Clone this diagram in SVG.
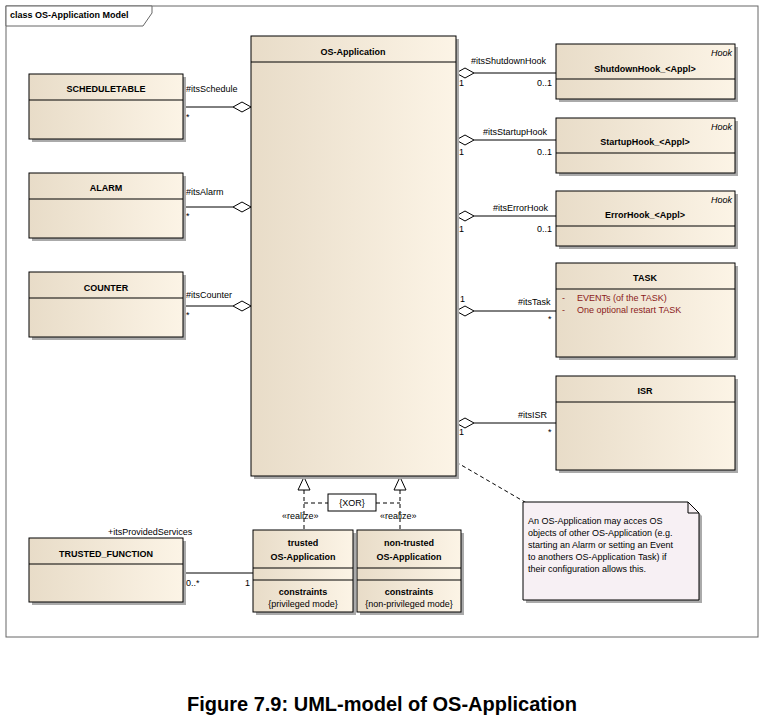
<svg xmlns="http://www.w3.org/2000/svg" width="767" height="718" viewBox="0 0 767 718">
<defs>
<linearGradient id="g" x1="0" y1="0" x2="1" y2="0"><stop offset="0" stop-color="#e8dcc8"/><stop offset="1" stop-color="#fcf4e6"/></linearGradient>
<marker id="open" markerWidth="14" markerHeight="12" refX="1" refY="6" orient="auto" markerUnits="userSpaceOnUse"><path d="M13,0 L1,6 L13,12" fill="none" stroke="#000"/></marker>
</defs>
<style>
text{font-family:"Liberation Sans",Arial,sans-serif;font-size:9px;fill:#000}
.b{font-weight:bold}
.box{fill:url(#g);stroke:#000;stroke-width:1}
.sh{fill:#aaa}
.ln{stroke:#000;stroke-width:1;fill:none}
.dash{stroke:#000;stroke-width:1;fill:none;stroke-dasharray:4,3}
.dia{fill:#fff;stroke:#000}
.red{fill:#8b1a1a}
</style>
<rect width="767" height="718" fill="#fff"/>
<g id="frame">
<rect x="6" y="6" width="752" height="631" fill="#fff" stroke="#666"/>
<path d="M6,6 H152 V13 L143,26 H6 Z" fill="#fff" stroke="#666"/>
<text x="10" y="18" class="b">class OS-Application Model</text>
</g>
<g id="connectors">
<path class="ln" d="M183,107 H233"/><path class="dia" d="M233,107 L242,102 L251,107 L242,112 Z"/>
<text x="186" y="92">#itsSchedule</text><text x="186" y="120">*</text><text x="254" y="126">1</text>
<path class="ln" d="M183,207 H233"/><path class="dia" d="M233,207 L242,202 L251,207 L242,212 Z"/>
<text x="186" y="195">#itsAlarm</text><text x="186" y="219">*</text><text x="254" y="224">1</text>
<path class="ln" d="M183,306 H233"/><path class="dia" d="M233,306 L242,301 L251,306 L242,311 Z"/>
<text x="186" y="298">#itsCounter</text><text x="186" y="318">*</text><text x="254" y="323">1</text>
<path class="ln" d="M474,73 H556"/><path class="dia" d="M456,73 L465,68 L474,73 L465,78 Z"/>
<text x="471" y="64">#itsShutdownHook</text><text x="459" y="86">1</text><text x="537" y="86">0..1</text>
<path class="ln" d="M474,140 H556"/><path class="dia" d="M456,140 L465,135 L474,140 L465,145 Z"/>
<text x="483" y="135">#itsStartupHook</text><text x="459" y="155">1</text><text x="537" y="155">0..1</text>
<path class="ln" d="M474,216 H556"/><path class="dia" d="M456,216 L465,211 L474,216 L465,221 Z"/>
<text x="493" y="211">#itsErrorHook</text><text x="459" y="232">1</text><text x="537" y="232">0..1</text>
<path class="ln" d="M474,311 H556"/><path class="dia" d="M456,311 L465,306 L474,311 L465,316 Z"/>
<text x="518" y="305">#itsTask</text><text x="460" y="302">1</text><text x="548" y="322">*</text>
<path class="ln" d="M474,423 H556"/><path class="dia" d="M456,423 L465,418 L474,423 L465,428 Z"/>
<text x="518" y="418">#itsISR</text><text x="459" y="435">1</text><text x="548" y="435">*</text>
<path class="dash" d="M304,490 V530 M400,490 V530"/>
<path d="M304,477 L298,490 H310 Z M400,477 L394,490 H406 Z" fill="#fff" stroke="#000"/>
<path class="dash" d="M304,503 H328 M376,503 H400"/>
<path class="ln" d="M253,573 H184" marker-end="url(#open)"/>
<text x="108" y="535">+itsProvidedServices</text><text x="186" y="586">0..*</text><text x="245" y="586">1</text>
<path class="dash" d="M456,462 L530,505"/>
<text x="282" y="519">«realize»</text><text x="380" y="519">«realize»</text>
</g>
<g id="xor"><rect x="328" y="494" width="48" height="17" fill="#fff" stroke="#000"/><text x="352" y="506" text-anchor="middle">{XOR}</text></g>
<g id="osapp"><rect class="sh" x="254" y="39" width="205" height="440"/><rect class="box" x="251" y="36" width="205" height="440"/><path class="ln" d="M251,62 H456"/><text x="353" y="55" text-anchor="middle" class="b">OS-Application</text></g>
<g id="scheduletable"><rect class="sh" x="32" y="77" width="154" height="65"/><rect class="box" x="29" y="74" width="154" height="65"/><path class="ln" d="M29,100 H183"/><text x="106" y="92" text-anchor="middle" class="b">SCHEDULETABLE</text></g>
<g id="alarm"><rect class="sh" x="32" y="176" width="154" height="65"/><rect class="box" x="29" y="173" width="154" height="65"/><path class="ln" d="M29,199 H183"/><text x="106" y="191" text-anchor="middle" class="b">ALARM</text></g>
<g id="counter"><rect class="sh" x="32" y="275" width="154" height="65"/><rect class="box" x="29" y="272" width="154" height="65"/><path class="ln" d="M29,298 H183"/><text x="106" y="291" text-anchor="middle" class="b">COUNTER</text></g>
<g id="shutdown"><rect class="sh" x="559" y="47" width="179" height="55"/><rect class="box" x="556" y="44" width="179" height="55"/><path class="ln" d="M556,79 H735"/><text x="732" y="56" text-anchor="end" font-style="italic">Hook</text><text x="645" y="72" text-anchor="middle" class="b">ShutdownHook_&lt;Appl&gt;</text></g>
<g id="startup"><rect class="sh" x="559" y="121" width="179" height="55"/><rect class="box" x="556" y="118" width="179" height="55"/><path class="ln" d="M556,153 H735"/><text x="732" y="130" text-anchor="end" font-style="italic">Hook</text><text x="645" y="145" text-anchor="middle" class="b">StartupHook_&lt;Appl&gt;</text></g>
<g id="error"><rect class="sh" x="559" y="194" width="179" height="55"/><rect class="box" x="556" y="191" width="179" height="55"/><path class="ln" d="M556,226 H735"/><text x="732" y="203" text-anchor="end" font-style="italic">Hook</text><text x="645" y="218" text-anchor="middle" class="b">ErrorHook_&lt;Appl&gt;</text></g>
<g id="task"><rect class="sh" x="559" y="266" width="179" height="94"/><rect class="box" x="556" y="263" width="179" height="94"/><path class="ln" d="M556,289 H735"/><text x="645" y="281" text-anchor="middle" class="b">TASK</text>
<text x="562" y="301" class="red">-</text><text x="577" y="301" class="red">EVENTs (of the TASK)</text><text x="562" y="313" class="red">-</text><text x="577" y="313" class="red">One optional restart TASK</text></g>
<g id="isr"><rect class="sh" x="559" y="379" width="179" height="94"/><rect class="box" x="556" y="376" width="179" height="94"/><path class="ln" d="M556,402 H735"/><text x="645" y="394" text-anchor="middle" class="b">ISR</text></g>
<g id="trustedfn"><rect class="sh" x="32" y="541" width="154" height="64"/><rect class="box" x="29" y="538" width="154" height="64"/><path class="ln" d="M29,564 H183"/><text x="106" y="557" text-anchor="middle" class="b">TRUSTED_FUNCTION</text></g>
<g id="trusted"><rect class="sh" x="256" y="533" width="100" height="82"/><rect class="box" x="253" y="530" width="100" height="82"/><path class="ln" d="M253,568 H353 M253,580 H353"/>
<text x="303" y="546" text-anchor="middle" class="b">trusted</text><text x="303" y="560" text-anchor="middle" class="b">OS-Application</text><text x="303" y="595" text-anchor="middle" class="b">constraints</text><text x="303" y="607" text-anchor="middle">{privileged mode}</text></g>
<g id="nontrusted"><rect class="sh" x="360" y="533" width="104" height="82"/><rect class="box" x="357" y="530" width="104" height="82"/><path class="ln" d="M357,568 H461 M357,580 H461"/>
<text x="409" y="546" text-anchor="middle" class="b">non-trusted</text><text x="409" y="560" text-anchor="middle" class="b">OS-Application</text><text x="409" y="595" text-anchor="middle" class="b">constraints</text><text x="409" y="607" text-anchor="middle">{non-privileged mode}</text></g>
<g id="note"><path d="M526,505 H691 L702,516 V603 H526 Z" fill="#aaa"/><path d="M523,502 H688 L699,513 V600 H523 Z" fill="#f7f0f4" stroke="#000"/><path class="ln" d="M688,502 V513 H699"/>
<text x="528" y="524">An OS-Application may acces OS</text><text x="528" y="536">objects of other OS-Application (e.g.</text><text x="528" y="548">starting an Alarm or setting an Event</text><text x="528" y="560">to anothers OS-Application Task) if</text><text x="528" y="572">their configuration allows this.</text></g>
<text x="382" y="711" text-anchor="middle" class="b" style="font-size:20px">Figure 7.9: UML-model of OS-Application</text>
</svg>
